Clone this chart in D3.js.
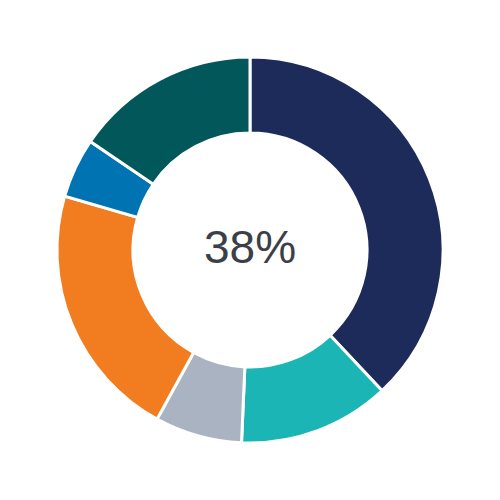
<!DOCTYPE html>
<html>
<head>
<meta charset="utf-8">
<script src="https://cdn.jsdelivr.net/npm/d3@7"></script>
<style>
  body { margin: 0; background: #fff; }
</style>
</head>
<body>
<div id="chart"></div>
<script>
// slice values, clockwise from 12 o'clock
const segments = ["navy", "teal", "gray", "orange", "blue", "green"];
const shares = [38, 12.7, 7.3, 21.5, 5, 15.5];
const colours = ["#1c2b5a", "#1bb5b6", "#a9b3c1", "#f27d20", "#0073b3", "#02575a"];
const centreLabel = "38%";

function draw() {
  const width = 500, height = 500;
  const outer = 193, inner = 117;

  const svg = d3.select("#chart")
    .append("svg")
    .attr("width", width)
    .attr("height", height);

  const chart = svg.append("g")
    .attr("transform", `translate(${width / 2},${height / 2})`);

  // pie layout keeps the given order
  const pie = d3.pie().sort(null).value(i => shares[i]);
  const arc = d3.arc().innerRadius(inner).outerRadius(outer);
  const colour = d3.scaleOrdinal().domain(segments).range(colours);

  chart.selectAll("path")
    .data(pie(d3.range(shares.length)))
    .join("path")
    .attr("d", arc)
    .attr("fill", d => colour(segments[d.data]))
    .attr("stroke", "#fff")
    .attr("stroke-width", 3);

  chart.append("text")
    .attr("x", 0)
    .attr("y", 13)
    .attr("text-anchor", "middle")
    .style("font-family", "'Liberation Sans', Arial, sans-serif")
    .style("font-size", "46px")
    .style("fill", "#3b4048")
    .text(centreLabel);
}

draw();
</script>
</body>
</html>
